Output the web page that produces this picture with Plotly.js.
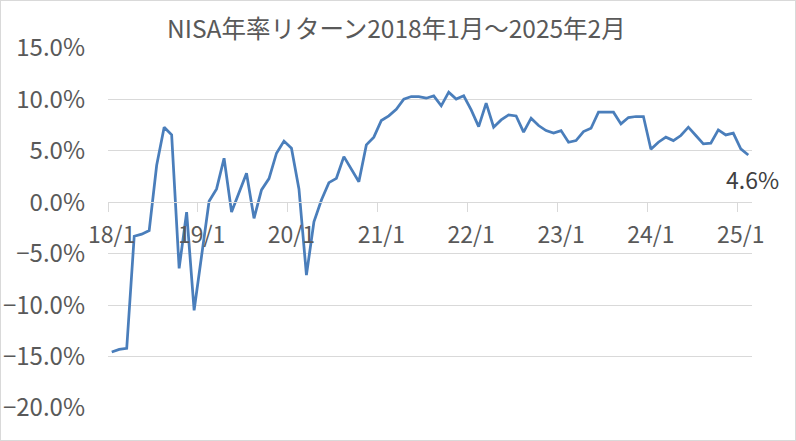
<!DOCTYPE html>
<html>
<head>
<meta charset="utf-8">
<script src="https://cdn.plot.ly/plotly-3.0.1.min.js"></script>
<style>
  html, body { margin: 0; padding: 0; background: #fff; }
  #wrap { position: relative; width: 796px; height: 441px; }
  #chart { width: 796px; height: 441px; }
  #frame { position: absolute; left: 0; top: 0; width: 794px; height: 439px; border: 1px solid #d9d9d9; pointer-events: none; }
</style>
</head>
<body>
<div id="wrap"><div id="chart"></div><div id="frame"></div></div>
<script>
// Years and months used to name the monthly categories (2018/1 .. 2025/2)
const years = [18, 19, 20, 21, 22, 23, 24, 25];
const lastMonth = 2; // data ends at 2025/2
const months = [];
for (const y of years) {
  for (let m = 1; m <= 12; m++) {
    if (y === 25 && m > lastMonth) break;
    months.push(y + '/' + m);
  }
}

// Annualised NISA return (%)
const returns = [
  -14.55, -14.3, -14.2, -3.3, -3.1, -2.75, 3.6, 7.3, 6.55, -6.43, -0.95, -10.5,
  -5.2, 0.1, 1.3, 4.28, -0.95, 1.0, 2.82, -1.56, 1.2, 2.3, 4.77, 5.95,
  5.26, 1.3, -7.08, -1.89, 0.22, 1.91, 2.33, 4.44, 3.21, 2.0, 5.58, 6.33,
  7.95, 8.4, 9.05, 10.03, 10.28, 10.28, 10.12, 10.35, 9.38, 10.71, 10.03, 10.35,
  8.99, 7.36, 9.64, 7.3, 8.01, 8.5, 8.4, 6.82, 8.18, 7.46, 6.97, 6.72,
  6.97, 5.84, 6.0, 6.87, 7.2, 8.76, 8.76, 8.76, 7.62, 8.24, 8.34, 8.34,
  5.16, 5.84, 6.33, 6.0, 6.49, 7.3, 6.49, 5.68, 5.75, 7.04, 6.55, 6.72,
  5.19, 4.6
];

const titleText = 'NISA年率リターン2018年1月～2025年2月';
const lastLabel = '4.6%';

const font = '"Noto Sans CJK JP", "Noto Sans", sans-serif';
const textColor = '#595959';
const gridColor = '#d9d9d9';
const tickSize = 23;

const trace = {
  type: 'scatter',
  mode: 'lines',
  x: months,
  y: returns,
  line: { color: '#4a7ebb', width: 2.75 },
  hoverinfo: 'x+y'
};

const layout = {
  width: 796,
  height: 441,
  margin: { l: 108, r: 44, t: 48, b: 33 },
  paper_bgcolor: '#ffffff',
  plot_bgcolor: '#ffffff',
  showlegend: false,
  font: { family: font, color: textColor, size: tickSize },
  title: {
    text: titleText,
    font: { family: font, color: textColor, size: 24.5 },
    xref: 'container', x: 0.498, xanchor: 'center',
    yref: 'container', y: 0.934, yanchor: 'middle'
  },
  xaxis: {
    type: 'category',
    range: [-0.5, months.length - 0.5],
    anchor: 'free',
    position: 20 / 35,
    tickmode: 'linear',
    tick0: 0,
    dtick: 12,
    tickson: 'boundaries',
    tickangle: 0,
    ticks: 'outside',
    ticklen: 9,
    tickwidth: 1,
    tickcolor: gridColor,
    showline: true,
    linecolor: gridColor,
    linewidth: 1,
    showgrid: false,
    zeroline: false,
    ticklabelstandoff: 12,
    tickfont: { family: font, color: textColor, size: tickSize },
    fixedrange: true
  },
  yaxis: {
    range: [-20, 15],
    tickmode: 'linear',
    tick0: -20,
    dtick: 5,
    tickformat: '.1f',
    ticksuffix: '%',
    showgrid: true,
    gridcolor: gridColor,
    gridwidth: 1,
    zeroline: false,
    showline: false,
    ticks: '',
    ticklabelstandoff: 22,
    tickfont: { family: font, color: textColor, size: 24 },
    fixedrange: true
  },
  annotations: [{
    x: months[months.length - 1],
    y: returns[returns.length - 1],
    xref: 'x', yref: 'y',
    text: lastLabel,
    showarrow: false,
    xshift: 4,
    yshift: -24,
    font: { family: font, color: '#404040', size: tickSize }
  }]
};

Plotly.newPlot('chart', [trace], layout, { staticPlot: true, displayModeBar: false });
</script>
</body>
</html>
